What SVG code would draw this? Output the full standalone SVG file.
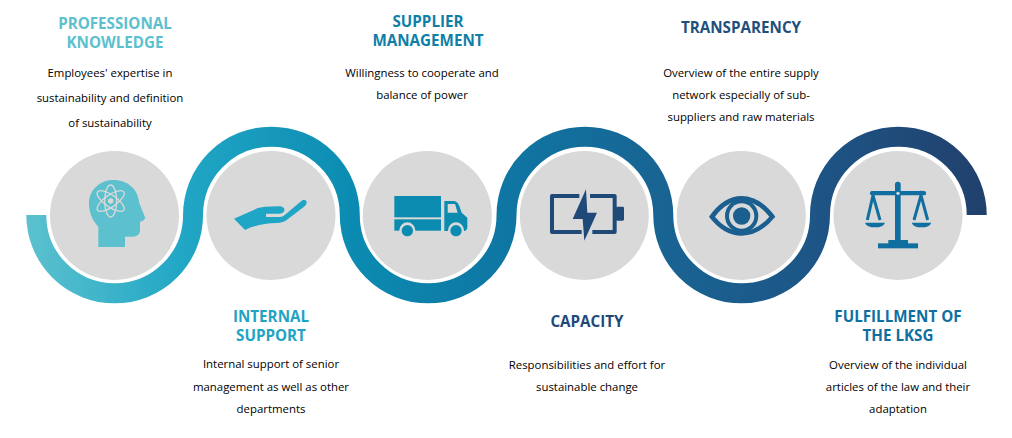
<svg xmlns="http://www.w3.org/2000/svg" width="1012" height="438" viewBox="0 0 1012 438">
<style>
text{font-family:"Open Sans","Noto Sans","Liberation Sans",sans-serif;text-anchor:middle}
.h{font-size:15.2px;font-weight:700}
.b{font-size:11.4px;fill:#000}
.c{fill:#d9d9d9}
</style>
<defs>
<linearGradient id="g" gradientUnits="userSpaceOnUse" x1="26" y1="0" x2="987" y2="0">
<stop offset="0" stop-color="#5cc1ce"/><stop offset=".16" stop-color="#22a7c6"/><stop offset=".34" stop-color="#0b8bb1"/><stop offset=".5" stop-color="#0f76a3"/><stop offset=".66" stop-color="#186493"/><stop offset=".82" stop-color="#1d5586"/><stop offset="1" stop-color="#21406c"/>
</linearGradient>
</defs>
<rect width="1012" height="438" fill="#fff"/>
<g id="connectors">
<path d="M36.3 215 A78.37 78.37 0 0 0 193.04 215 A78.37 78.37 0 0 1 349.78 215 A78.37 78.37 0 0 0 506.52 215 A78.37 78.37 0 0 1 663.26 215 A78.37 78.37 0 0 0 820 215 A78.37 78.37 0 0 1 976.74 215" fill="none" stroke="url(#g)" stroke-width="20"/>
</g>
<g id="n1">
<circle class="c" cx="114.5" cy="215.5" r="64.5"/>
<g transform="translate(20 120) scale(.33333)">
<path fill="#5cc0ce" d="M235 381V320C215 300 207 275 207 250C207 210 240 180 280 180C325 180 355 210 358 250L375 292Q376 302 360 305V335Q356 350 335 350H315V381Z"/>
<g fill="none" stroke="#d9d9d9" stroke-width="4"><ellipse cx="272" cy="243" rx="48" ry="18" transform="rotate(90 272 243)"/><ellipse cx="272" cy="243" rx="48" ry="18" transform="rotate(35 272 243)"/><ellipse cx="272" cy="243" rx="48" ry="18" transform="rotate(-35 272 243)"/></g>
<circle cx="272" cy="243" r="8" fill="#d9d9d9"/>
</g>
<text class="h" fill="#5cc0ce"><tspan x="115" y="29">PROFESSIONAL</tspan><tspan x="115" y="48">KNOWLEDGE</tspan></text>
<text class="b" x="110" y="77">Employees' expertise in</text>
<text class="b" x="110" y="102">sustainability and definition</text>
<text class="b" x="110" y="127">of sustainability</text>
</g>
<g id="n2">
<circle class="c" cx="271" cy="215.5" r="64.5"/>
<path transform="translate(20 120) scale(.33333)" fill="#1fa6c6" d="M642 296L712 265Q725 259 780 259Q795 261 793 272Q790 281 775 281H738V291H780Q788 291 795 284L845 242Q855 236 860 245Q862 253 850 262L800 300Q790 308 770 309Q715 310 675 330Z"/>
<text class="h" fill="#22a3c2"><tspan x="271" y="322">INTERNAL</tspan><tspan x="271" y="341">SUPPORT</tspan></text>
<text class="b" x="271" y="368">Internal support of senior</text>
<text class="b" x="271" y="391">management as well as other</text>
<text class="b" x="271" y="413">departments</text>
</g>
<g id="n3">
<circle class="c" cx="427.3" cy="215.5" r="64.5"/>
<g transform="translate(350 120) scale(.33333)" fill="#0b8bb0">
<rect x="133" y="228" width="140" height="64"/>
<rect x="133" y="298" width="140" height="34"/>
<path d="M283 243H310Q322 243 328 258L335 278L352 293V322Q352 332 343 333H283Z"/>
<path fill="#d9d9d9" d="M293 252H315L323 278H293Z"/>
<circle cx="172" cy="331" r="24" fill="#d9d9d9"/><circle cx="172" cy="332" r="17"/>
<circle cx="318" cy="331" r="24" fill="#d9d9d9"/><circle cx="318" cy="332" r="17"/>
</g>
<text class="h" fill="#0f7fa8"><tspan x="428" y="27">SUPPLIER</tspan><tspan x="428" y="46">MANAGEMENT</tspan></text>
<text class="b" x="422" y="77">Willingness to cooperate and</text>
<text class="b" x="422" y="99">balance of power</text>
</g>
<g id="n4">
<circle class="c" cx="584.3" cy="215.5" r="64.5"/>
<g transform="translate(350 120) scale(.33333)" fill="#1f4a78">
<path fill="none" stroke="#1f4a78" stroke-width="12" stroke-linejoin="round" d="M688 228H606V336H695M720 228H794V336H727"/>
<rect x="798" y="260" width="24" height="42" rx="4"/>
<path d="M708 208L668 297H698L703 362L741 278H712Z"/>
</g>
<text class="h" x="587" y="327" fill="#1f4a78">CAPACITY</text>
<text class="b" x="587" y="369">Responsibilities and effort for</text>
<text class="b" x="587" y="391">sustainable change</text>
</g>
<g id="n5">
<circle class="c" cx="741.3" cy="215.5" r="64.5"/>
<g transform="translate(670 120) scale(.33333)" fill="#1a5f8f">
<path d="M117 290Q160 228 215 228Q270 228 316 290Q270 347 215 347Q160 347 117 290Z"/>
<path fill="#d9d9d9" d="M135 290Q170 243 215 243Q260 243 298 290Q260 333 215 333Q170 333 135 290Z"/>
<circle cx="215" cy="288" r="50"/><circle cx="215" cy="288" r="38" fill="#d9d9d9"/><circle cx="215" cy="288" r="26"/>
</g>
<text class="h" x="741" y="33" fill="#1f4f7c">TRANSPARENCY</text>
<text class="b" x="741" y="77">Overview of the entire supply</text>
<text class="b" x="741" y="99">network especially of sub-</text>
<text class="b" x="741" y="121">suppliers and raw materials</text>
</g>
<g id="n6">
<circle class="c" cx="898" cy="215.5" r="64.5"/>
<g transform="translate(670 120) scale(.33333)" fill="#106fa0">
<rect x="600" y="213" width="168" height="13" rx="5"/>
<rect x="675" y="185" width="17" height="185" rx="8"/>
<circle cx="684" cy="220" r="5" fill="#d9d9d9"/>
<rect x="655" y="360" width="59" height="12"/><rect x="624" y="370" width="120" height="15"/>
<path fill="none" stroke="#106fa0" stroke-width="9" d="M592 300L609 226L630 300M732 300L753 226L773 300"/>
<path d="M585 308H645Q640 322 615 322Q590 322 585 308ZM725 308H784Q779 322 754 322Q730 322 725 308Z"/>
</g>
<text class="h" fill="#106fa0"><tspan x="898" y="322">FULFILLMENT OF</tspan><tspan x="898" y="341">THE LKSG</tspan></text>
<text class="b" x="898" y="369">Overview of the individual</text>
<text class="b" x="898" y="391">articles of the law and their</text>
<text class="b" x="898" y="413">adaptation</text>
</g>
</svg>
